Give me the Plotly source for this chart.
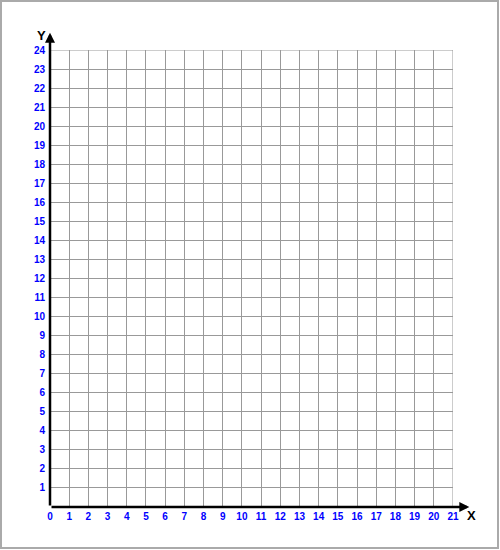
import plotly.graph_objects as go

# grid / tick values
x_ticks = list(range(0, 22))
y_ticks = list(range(1, 25))
x_max = 21
y_max = 24

W, H = 500, 550
L, R, T, B = 50, 47, 50, 43
pw, ph = W - L - R, H - T - B

fig = go.Figure()
# invisible trace so the axes get drawn
fig.add_trace(go.Scatter(x=[0, x_max], y=[0, y_max], mode="markers",
                         marker=dict(opacity=0), hoverinfo="skip", showlegend=False))

tick_font = dict(family="Liberation Sans, Arial", size=10, color="#0000ff", weight="bold")
fig.update_xaxes(range=[0, x_max], tickvals=x_ticks, ticktext=[str(v) for v in x_ticks],
                 showgrid=True, gridcolor="#999999", gridwidth=1, zeroline=False,
                 showline=False, ticks="", ticklabelstandoff=2, tickfont=tick_font,
                 fixedrange=True)
fig.update_yaxes(range=[0, y_max], tickvals=y_ticks, ticktext=[str(v) for v in y_ticks],
                 showgrid=True, gridcolor="#999999", gridwidth=1, zeroline=False,
                 showline=False, ticks="", ticklabelstandoff=4, tickfont=tick_font,
                 fixedrange=True)

# outer frame of the top and right grid edges
fig.add_shape(type="line", xref="x", yref="y", x0=0, x1=x_max, y0=y_max, y1=y_max,
              line=dict(color="#999999", width=1))
fig.add_shape(type="line", xref="x", yref="y", x0=x_max, x1=x_max, y0=0, y1=y_max,
              line=dict(color="#999999", width=1))

# axis arrows
fig.add_annotation(x=x_max + 0.85, y=0, ax=0, ay=0, xref="x", yref="y", axref="x", ayref="y",
                   text="", showarrow=True, arrowhead=2, arrowsize=0.8, arrowwidth=2.5,
                   arrowcolor="black")
fig.add_annotation(x=0, y=y_max + 0.9, ax=0, ay=0, xref="x", yref="y", axref="x", ayref="y",
                   text="", showarrow=True, arrowhead=2, arrowsize=0.8, arrowwidth=2.5,
                   arrowcolor="black")

# axis names, placed in paper units (data-ref annotations outside the range get hidden)
label_font = dict(family="Liberation Sans, Arial", size=13, color="black", weight="bold")
fig.add_annotation(x=(x_max + 0.95) / x_max, y=-0.45 / y_max, xref="paper", yref="paper",
                   xanchor="center", yanchor="middle",
                   text="X", showarrow=False, font=label_font)
fig.add_annotation(x=-0.45 / x_max, y=(y_max + 0.75) / y_max, xref="paper", yref="paper",
                   xanchor="center", yanchor="middle",
                   text="Y", showarrow=False, font=label_font)

# page border
fig.add_shape(type="rect", xref="paper", yref="paper",
              x0=(1 - L) / pw, x1=(W - 2 - L) / pw,
              y0=(T + ph - (H - 2)) / ph, y1=(T + ph - 1) / ph,
              line=dict(color="#aaaaaa", width=2))

fig.update_layout(width=W, height=H, margin=dict(l=L, r=R, t=T, b=B),
                  plot_bgcolor="white", paper_bgcolor="white", showlegend=False)

# drop the default page margin so the figure sits at the window corner
fig.write_html("out.html", config={"displayModeBar": False},
               post_script="document.body.style.margin='0';")
